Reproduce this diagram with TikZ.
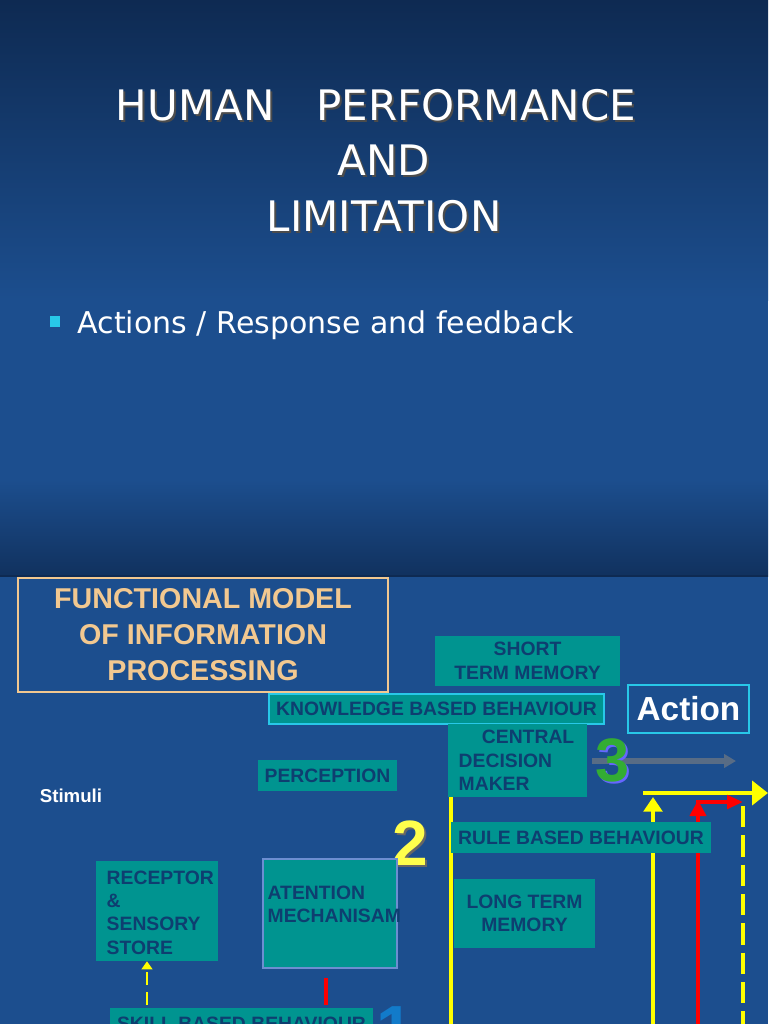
\documentclass[tikz,border=0pt]{standalone}
\usepackage{fontspec}
\setmainfont{Liberation Sans}
\newfontfamily\titlefont{DejaVu Sans}
\usetikzlibrary{arrows.meta}
\definecolor{bgA}{HTML}{0E2A52}
\definecolor{bgB}{HTML}{1C4E8E}
\definecolor{tealbox}{HTML}{009490}
\definecolor{boxtext}{HTML}{0E3E70}
\definecolor{tan}{HTML}{F2C890}
\definecolor{cyanb}{HTML}{28C8E8}
\definecolor{ylw}{HTML}{FFFF00}
\tikzset{
  box/.style={fill=tealbox,draw=none,inner sep=0},
  btxt/.style={text=boxtext,font=\bfseries\fontsize{14.5}{17.5}\selectfont,align=center},
  ylwline/.style={draw=ylw,line width=3.5},
  redline/.style={draw=red,line width=3.5},
  ttl/.style={font=\titlefont\fontsize{31.5}{36}\selectfont,text=white},
  ttlsh/.style={font=\titlefont\fontsize{31.5}{36}\selectfont,text=black!70},
}
\begin{document}
\begin{tikzpicture}[x=0.75pt,y=-0.75pt]
\clip (0,0) rectangle (768,1024);
\shade[top color=bgA,bottom color=bgB] (0,0) rectangle (768,300);
\fill[bgB] (0,300) rectangle (768,1024);
\shade[top color=bgB,bottom color=bgA!80!bgB] (0,480) rectangle (768,576);
\draw[bgA,line width=1] (0,576) -- (768,576);
% title
\node[ttlsh] at (378,107) {HUMAN\quad PERFORMANCE};
\node[ttl] (t1) at (376,105) {HUMAN\quad PERFORMANCE};
\node[ttlsh] at (386,162) {AND};
\node[ttl] (t2) at (384,160) {AND};
\node[ttlsh] at (386,218) {LIMITATION};
\node[ttl] (t3) at (384,216) {LIMITATION};
\fill[cyanb] (50,316) rectangle (60,327);
\node[anchor=west,font=\titlefont\fontsize{22.5}{26}\selectfont,text=white] (bul) at (73,325) {Actions / Response and feedback};
% functional model
\node[draw=tan,line width=0.8,minimum width=370*0.75pt,minimum height=114*0.75pt,text=tan,font=\bfseries\fontsize{21.5}{27}\selectfont,align=center] (fm) at (203,635) {FUNCTIONAL MODEL\\OF INFORMATION\\PROCESSING};
% lines (behind boxes)
\coordinate (y1) at (451,797);
\coordinate (y2) at (451,1030);
\draw[ylwline] (y1) -- (y2);
\coordinate (y3) at (653,1030);
\coordinate (y4) at (653,797);
\coordinate (y5) at (643,793);
\coordinate (y6) at (768,793);
\draw[ylwline,-{Triangle[length=11pt,width=14pt]}] (y3) -- (y4);
\draw[ylwline,-{Triangle[length=12pt,width=18pt]}] (y5) -- (y6);
\coordinate (r1) at (698,1030);
\coordinate (r2) at (698,800);
\draw[redline,-{Triangle[length=12pt,width=12pt]}] (r1) -- (r2);
\coordinate (r3) at (696,802);
\coordinate (r4) at (743,802);
\draw[redline,-{Triangle[length=12pt,width=10pt]}] (r3) -- (r4);
\coordinate (d1) at (743,806);
\coordinate (d2) at (743,1030);
\draw[draw=ylw,line width=2.5,dash pattern=on 16pt off 6pt] (d1) -- (d2);
% boxes
\node[box,minimum width=185*0.75pt,minimum height=50*0.75pt] (stm) at (527.5,661) {};
\node[btxt] at (stm) {SHORT\\TERM MEMORY};
\node[box,draw=cyanb,line width=1.2,minimum width=335*0.75pt,minimum height=30*0.75pt] (kbb) at (436.5,709) {};
\node[btxt] at (kbb) {KNOWLEDGE BASED BEHAVIOUR};
\node[draw=cyanb,line width=1.2,minimum width=121*0.75pt,minimum height=48*0.75pt] (act) at (688.5,709) {};
\node[text=white,font=\bfseries\fontsize{25}{28}\selectfont] at (act) {Action};
\node[box,minimum width=139*0.75pt,minimum height=73*0.75pt] (cdm) at (517.5,760.5) {};
\node[btxt,align=left,anchor=west] at (454,760.5) {\hspace*{1.2em}CENTRAL\\DECISION\\MAKER};
\node[box,minimum width=139*0.75pt,minimum height=31*0.75pt] (per) at (327.5,775.5) {};
\node[btxt] at (per) {PERCEPTION};
\node[text=white,font=\bfseries\fontsize{14}{16}\selectfont] (stim) at (71,796) {Stimuli};
% arrow 3
\coordinate (g1) at (592,761);
\coordinate (g2) at (736,761);
\draw[-{Triangle[length=9pt,width=10pt]},line width=4,color=gray!60!bgB] (g1) -- (g2);
\node[font=\bfseries\fontsize{46}{48}\selectfont,text=blue!60!white] at (615,762) {3};
\node[font=\bfseries\fontsize{46}{48}\selectfont,text=green!60!black!80!white] (n3) at (613,760) {3};
% rule
\node[box,minimum width=260*0.75pt,minimum height=31*0.75pt] (rbb) at (581,837.5) {};
\node[btxt] at (rbb) {RULE BASED BEHAVIOUR};
\node[font=\bfseries\fontsize{48}{50}\selectfont,text=black!60] at (412,845) {2};
\node[font=\bfseries\fontsize{48}{50}\selectfont,text=ylw!70!white] (n2) at (410,843) {2};
% long term
\node[box,minimum width=141*0.75pt,minimum height=69*0.75pt] (ltm) at (524.5,913.5) {};
\node[btxt] at (ltm) {LONG TERM\\MEMORY};
% receptor
\node[box,minimum width=122*0.75pt,minimum height=100*0.75pt] (rec) at (157,911) {};
\node[btxt,align=left,anchor=north west] at (102,866) {RECEPTOR\\\&\\SENSORY\\STORE};
\node[box,draw=cyan!40!blue!60!white,line width=1,minimum width=134*0.75pt,minimum height=109*0.75pt] (att) at (330,913.5) {};
\node[btxt,align=left,anchor=north west] at (263,881) {ATENTION\\MECHANISAM};
% skill
\node[box,minimum width=263*0.75pt,minimum height=40*0.75pt] (skb) at (241.5,1028) {};
\node[btxt,anchor=north] at (241.5,1012) {SKILL BASED BEHAVIOUR};
\node[font=\bfseries\fontsize{50}{52}\selectfont,text=cyan!60!blue] (n1) at (395,1030) {1};
\coordinate (a1) at (147,1005);
\draw[draw=ylw,line width=2,dash pattern=on 10pt off 5pt,-{Triangle[length=6pt,width=8pt]}] (a1) -- (rec.south -| a1);
\coordinate (b1) at (326,978);
\coordinate (b2) at (326,1005);
\draw[redline] (b1) -- (b2);
\end{tikzpicture}
\end{document}
